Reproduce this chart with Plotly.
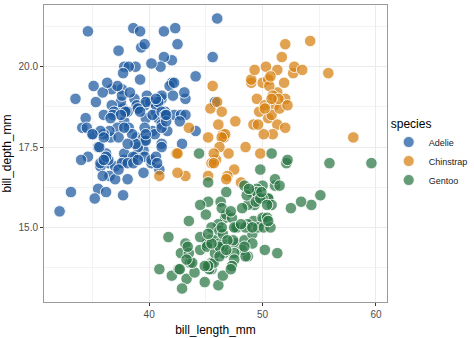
import plotly.graph_objects as go

species = ["Adelie", "Chinstrap", "Gentoo"]
colors = {"Adelie": "rgba(27,88,158,0.72)", "Chinstrap": "rgba(214,128,14,0.72)", "Gentoo": "rgba(42,118,68,0.72)"}

adelie_len = [39.1,39.5,40.3,36.7,39.3,38.9,39.2,34.1,42,37.8,37.8,41.1,38.6,34.6,36.6,38.7,42.5,34.4,46,
37.8,37.7,35.9,38.2,38.8,35.3,40.6,40.5,37.9,40.5,
39.5,37.2,39.5,40.9,36.4,39.2,38.8,42.2,37.6,39.8,36.5,40.8,36,44.1,37,39.6,41.1,37.5,36,42.3,
39.6,40.1,35,42,34.5,41.4,39,40.6,36.5,37.6,35.7,41.3,37.6,41.1,36.4,41.6,35.5,41.1,
35.9,41.8,33.5,39.7,39.6,45.8,35.5,42.8,40.9,37.2,36.2,42.1,34.6,42.9,36.7,35.1,
37.3,41.3,36.3,36.9,38.3,38.9,35.7,41.1,34,39.6,36.2,40.8,38.1,40.3,33.1,43.2,
35,41,37.7,37.8,37.9,39.7,38.6,38.2,38.1,43.2,38.1,45.6,39.7,42.2,39.6,42.7,
38.6,37.3,35.7,41.1,36.2,37.7,40.2,41.4,35.2,40.6,38.8,41.5,39,44.1,38.5,43.1,
36.8,37.5,38.1,41.1,35.6,40.2,37,39.7,40.2,40.6,32.1,40.7,37.3,39,39.2,36.6,36,37.8,36,41.5]
adelie_dep = [18.7,17.4,18,19.3,20.6,17.8,19.6,18.1,20.2,17.1,17.3,17.6,21.2,21.1,17.8,19,20.7,18.4,21.5,
18.3,18.7,19.2,18.1,17.2,18.9,18.6,17.9,18.6,18.9,
16.7,18.1,17.8,18.9,17,21.1,20,18.5,19.3,19.1,18,18.4,18.5,19.7,16.9,18.8,19,18.9,17.9,21.2,
17.7,18.9,17.9,19.5,18.1,18.6,17.5,18.8,16.6,19.1,16.9,21.1,17,18.2,17.1,18,16.2,19.1,
16.6,19.4,19,18.4,17.2,18.9,17.5,18.5,16.8,19.4,16.1,19.1,17.2,17.6,18.8,19.4,
17.8,20.3,19.5,18.6,19.2,18.8,18,18.1,17.1,18.1,17.3,18.9,18.6,18.5,16.1,18.5,
17.9,20,16,20,18.6,18.9,17.2,20,17,19,16.5,20.3,17.7,19.5,20.7,18.3,
17,20.5,17,18.6,17.2,19.8,17,18.5,15.9,19,17.6,18.3,17.1,18,17.9,19.2,
18.5,18.5,17.6,17.5,17.5,20.1,16.5,17.9,17.1,17.2,15.5,17,16.8,18.7,18.6,18.4,17.8,18.1,17.1,18.5]

chinstrap_len = [46.5,50,51.3,45.4,52.7,45.2,46.1,51.3,46,51.3,46.6,51.7,47,52,45.9,50.5,50.3,58,46.4,49.2,
42.4,48.5,43.2,50.6,46.7,52,50.5,49.5,46.4,52.8,40.9,54.2,42.5,51,49.7,47.5,47.6,52,46.9,53.5,
49,46.2,50.9,45.5,50.9,50.8,50.1,49,51.5,49.8,48.1,51.4,45.7,50.7,42.5,52.2,45.2,49.3,50.2,45.6,
51.9,46.8,45.7,55.8,43.5,49.6,50.8,50.2]
chinstrap_dep = [17.9,19.5,19.2,18.7,19.8,17.8,18.2,18.2,18.9,19.9,17.8,20.3,17.3,18.1,17.1,19.6,20,17.8,18.6,18.2,
17.3,17.5,16.6,19.4,17.9,19,18.4,19,17.8,20,16.6,20.8,16.7,18.8,18.6,16.8,18.3,20.7,16.6,19.9,
19.5,17.5,19.1,17,17.9,18.5,17.9,19.6,18.7,17.3,16.4,19,17.3,19.7,17.3,18.8,16.6,19.9,18.8,19.4,
19.5,16.5,17,19.8,18.1,18.2,19,18.7]

gentoo_len = [46.1,50,48.7,50,47.6,46.5,45.4,46.7,43.3,46.8,40.9,49,45.5,48.4,45.8,49.3,42,49.2,46.2,48.7,
50.2,45.1,46.5,46.3,42.9,46.1,44.5,47.8,48.2,50,47.3,42.8,45.1,59.6,49.1,48.4,42.6,44.4,44,48.7,
42.7,49.6,45.3,49.6,50.5,43.6,45.5,50.5,44.9,45.2,46.6,48.5,45.1,50.1,46.5,45,43.8,45.5,43.2,50.4,
45.3,46.2,45.7,54.3,45.8,49.8,46.2,49.5,43.5,50.7,47.7,46.4,48.2,46.5,46.4,48.6,47.5,51.1,45.2,45.2,
49.1,52.5,47.4,50,44.9,50.8,43.4,51.3,47.5,52.1,47.5,52.2,45.5,49.5,44.5,50.8,49.4,46.9,48.4,51.1,
48.5,55.9,47.2,49.1,47.3,46.8,41.7,53.4,43.3,48.1,50.5,49.8,43.5,51.5,46.2,55.1,44.5,48.8,47.2,
46.8,50.4,45.2,49.9]
gentoo_dep = [13.2,16.3,14.1,15.2,14.5,13.5,14.6,15.3,13.4,15.4,13.7,16.1,13.7,14.6,14.6,15.7,13.5,15.2,14.5,15.1,
14.3,14.5,14.5,15.8,13.1,15.1,14.3,15,14.3,15.3,15.3,14.2,14.5,17,14.8,16.3,13.7,17.3,13.6,15.7,
13.7,16,13.7,15,15.9,13.9,13.9,15.9,13.3,15.8,14.2,14.1,14.4,15,14.4,15.4,13.9,15,14.5,15.3,
13.8,14.9,13.9,15.7,14.2,16.8,14.4,16.2,14.2,15,15,15.6,15.6,14.8,15,16,14.2,16.3,13.8,16.4,
14.5,15.6,14.6,15.9,13.8,17.3,14.4,14.2,14,17,15,17.1,14.5,16.1,14.7,15.7,15.8,14.6,14.4,16.5,
15,17,15.5,15,13.8,16.1,14.7,15.8,14,15.1,15.2,15.9,15.2,16.3,14.1,16,15.7,16.2,13.7,
14.3,15.7,14.8,16.1]

data = {"Adelie": (adelie_len, adelie_dep), "Chinstrap": (chinstrap_len, chinstrap_dep), "Gentoo": (gentoo_len, gentoo_dep)}

fig = go.Figure()
for sp in species:
    x, y = data[sp]
    fig.add_trace(go.Scatter(x=x, y=y, mode="markers", name=sp,
        marker=dict(size=11.5, color=colors[sp], line=dict(color="rgba(255,255,255,0.85)", width=1))))

font = "Liberation Sans, Arial, sans-serif"
axis_common = dict(showline=True, linecolor="#9a9a9a", linewidth=1, mirror=True,
                   showgrid=True, gridcolor="#ebebeb", gridwidth=1, zeroline=False,
                   ticks="outside", ticklen=3, tickcolor="#333333",
                   tickfont=dict(family=font, size=10, color="#4d4d4d"),
                   title_font=dict(family=font, size=12, color="#000000"))

fig.update_xaxes(range=[30.725, 60.975], tickvals=[40, 50, 60],
                 minor=dict(tickvals=[35, 45, 55], showgrid=True, gridcolor="#f3f3f3", ticks=""),
                 title_text="bill_length_mm", title_standoff=6, **axis_common)
fig.update_yaxes(range=[12.68, 21.92], tickvals=[15, 17.5, 20], ticktext=["15.0", "17.5", "20.0"],
                 minor=dict(tickvals=[13.75, 16.25, 18.75, 21.25], showgrid=True, gridcolor="#f3f3f3", ticks=""),
                 title_text="bill_depth_mm", title_standoff=6, **axis_common)

fig.update_layout(
    width=474, height=338,
    margin=dict(l=44, r=87, t=5, b=36, autoexpand=False),
    plot_bgcolor="white", paper_bgcolor="white",
    font=dict(family=font, size=11, color="#000000"),
    legend=dict(title=dict(text="species", font=dict(family=font, size=12, color="#000")),
                font=dict(family=font, size=9, color="#222"),
                x=1.005, xanchor="left", y=0.5, yanchor="middle",
                itemsizing="constant", itemwidth=30, tracegroupgap=0, bgcolor="rgba(0,0,0,0)"),
    showlegend=True,
)

fig.write_html("out.html")
